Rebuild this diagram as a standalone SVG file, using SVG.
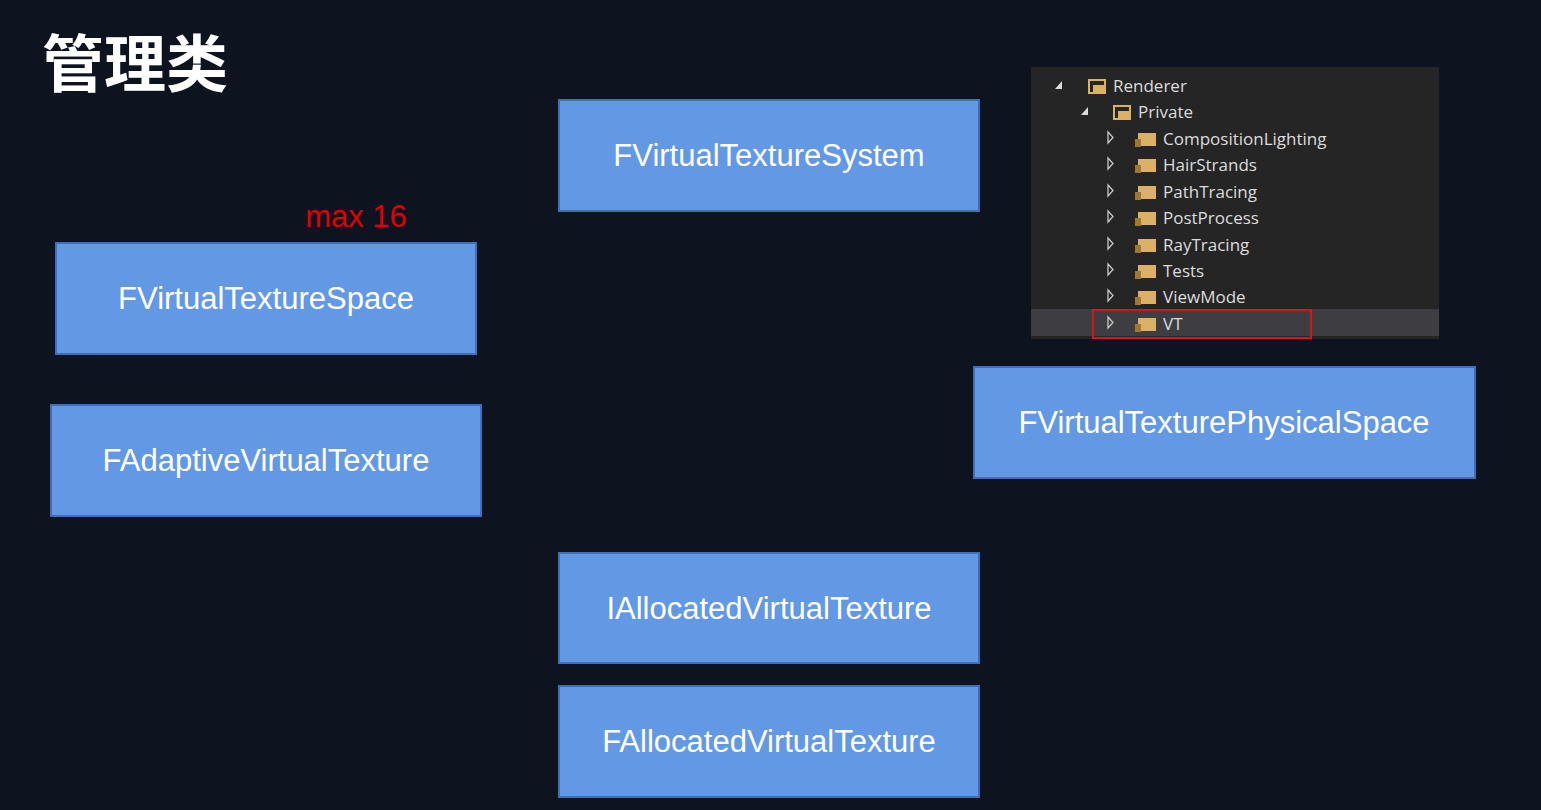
<svg xmlns="http://www.w3.org/2000/svg" width="1541" height="810" viewBox="0 0 1541 810">
<style>
.box{fill:#6398e5;stroke:#3f6fb5;stroke-width:2}
.lbl{font-family:"Liberation Sans",Arial,sans-serif;font-size:31px;fill:#ffffff;text-anchor:middle}
.tree{font-family:"Open Sans","DejaVu Sans",sans-serif;font-size:17px;fill:#dcdcdc}
.arr{fill:none;stroke:#c8c8c8;stroke-width:1.3}
.fold{fill:#dcb067}
</style>
<defs>
<g id="fi"><rect class="fold" x="0" y="-12" width="18" height="13"/><rect fill="#a07830" x="-3" y="-6" width="6" height="8"/></g>
</defs>
<rect width="1541" height="810" fill="#0e1320"/>
<text x="42" y="87" font-family="Noto Sans CJK SC,sans-serif" font-weight="bold" font-size="62" fill="#ffffff">管理类</text>
<g id="panel">
<rect x="1031" y="67" width="408" height="272" fill="#252526"/>
<rect x="1031" y="309" width="408" height="27" fill="#3e3e42"/>
<polygon points="1062,81 1062,89 1055,89" fill="#dcdcdc"/>
<g transform="translate(1089,92)"><rect x="0" y="-12" width="16" height="13" fill="none" stroke="#dcb067" stroke-width="2"/><rect class="fold" x="4" y="-7" width="12" height="8"/></g>
<text class="tree" x="1113" y="92">Renderer</text>
<polygon points="1088,107 1088,115 1081,115" fill="#dcdcdc"/>
<g transform="translate(1114,118)"><rect x="0" y="-12" width="16" height="13" fill="none" stroke="#dcb067" stroke-width="2"/><rect class="fold" x="4" y="-7" width="12" height="8"/></g>
<text class="tree" x="1138" y="118">Private</text>
<g class="arr">
<polygon points="1108,132 1108,143 1113,137.5"/>
<polygon points="1108,158 1108,169 1113,163.5"/>
<polygon points="1108,185 1108,196 1113,190.5"/>
<polygon points="1108,211 1108,222 1113,216.5"/>
<polygon points="1108,238 1108,249 1113,243.5"/>
<polygon points="1108,264 1108,275 1113,269.5"/>
<polygon points="1108,290 1108,301 1113,295.5"/>
<polygon points="1108,317 1108,328 1113,322.5"/>
</g>
<use href="#fi" x="1138" y="145"/><text class="tree" x="1163" y="145">CompositionLighting</text>
<use href="#fi" x="1138" y="171"/><text class="tree" x="1163" y="171">HairStrands</text>
<use href="#fi" x="1138" y="198"/><text class="tree" x="1163" y="198">PathTracing</text>
<use href="#fi" x="1138" y="224"/><text class="tree" x="1163" y="224">PostProcess</text>
<use href="#fi" x="1138" y="251"/><text class="tree" x="1163" y="251">RayTracing</text>
<use href="#fi" x="1138" y="277"/><text class="tree" x="1163" y="277">Tests</text>
<use href="#fi" x="1138" y="303"/><text class="tree" x="1163" y="303">ViewMode</text>
<use href="#fi" x="1138" y="330"/><text class="tree" x="1163" y="330">VT</text>
<rect x="1093" y="310" width="218" height="28" fill="none" stroke="#d01818" stroke-width="2"/>
</g>
<text x="356" y="227" font-family="Liberation Sans,Arial,sans-serif" font-size="31" fill="#e00000" text-anchor="middle">max 16</text>
<g id="n1"><rect class="box" x="559" y="100" width="420" height="111"/><text class="lbl" x="769" y="166">FVirtualTextureSystem</text></g>
<g id="n2"><rect class="box" x="56" y="243" width="420" height="111"/><text class="lbl" x="266" y="309">FVirtualTextureSpace</text></g>
<g id="n3"><rect class="box" x="51" y="405" width="430" height="111"/><text class="lbl" x="266" y="471">FAdaptiveVirtualTexture</text></g>
<g id="n4"><rect class="box" x="974" y="367" width="501" height="111"/><text class="lbl" x="1224" y="433">FVirtualTexturePhysicalSpace</text></g>
<g id="n5"><rect class="box" x="559" y="553" width="420" height="110"/><text class="lbl" x="769" y="619">IAllocatedVirtualTexture</text></g>
<g id="n6"><rect class="box" x="559" y="686" width="420" height="111"/><text class="lbl" x="769" y="752">FAllocatedVirtualTexture</text></g>
<g id="connectors"></g>
</svg>
